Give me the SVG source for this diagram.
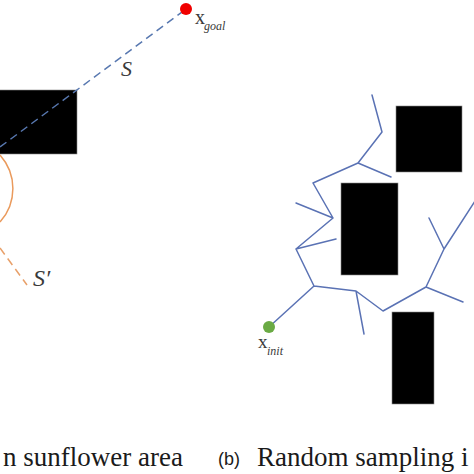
<svg xmlns="http://www.w3.org/2000/svg" width="474" height="474" viewBox="0 0 474 474">
<style>
.obs{fill:#000;stroke:#888;stroke-width:0.6}
.tree{fill:none;stroke:#5a72b4;stroke-width:1.5;stroke-linecap:round;stroke-linejoin:round}
.dashb{fill:none;stroke:#5878b0;stroke-width:1.5;stroke-dasharray:8 5}
.dasho{fill:none;stroke:#e8a06a;stroke-width:1.5;stroke-dasharray:8 5}
.arc{fill:none;stroke:#ea9a5c;stroke-width:1.5}
.lbl{font-family:"Liberation Serif","Times New Roman",serif;fill:#3a3a3a}
.cap{font-family:"Liberation Serif","Times New Roman",serif;font-size:27px;fill:#1a1a1a}
</style>
<rect width="474" height="474" fill="#fff"/>
<g id="obstacle-left"><rect class="obs" x="-2" y="90" width="79" height="64"/></g>
<g id="obstacle-r1"><rect class="obs" x="396" y="106" width="66" height="66"/></g>
<g id="obstacle-r2"><rect class="obs" x="341" y="183" width="57" height="92"/></g>
<g id="obstacle-r3"><rect class="obs" x="392" y="312" width="42" height="92"/></g>
<g id="connectors">
<path class="dashb" d="M0 147 L186 9"/>
<path class="arc" d="M0 155 A50 50 0 0 1 0 222"/>
<path class="dasho" d="M0 248 L27 285"/>
<path class="tree" d="M372 95 L382 132 L358 163 L391 177 M358 163 L313 183 L333 218 L296 203 M333 218 L296 249 L336 239 M296 249 L314 286 L356 291 L364 334 M356 291 L383 311 L426 287 L463 302 M426 287 L444 249 L429 218 M444 249 L475 201 M314 286 L269 327"/>
</g>
<g id="goal"><circle cx="186" cy="9" r="6" fill="#f00000"/>
<text class="lbl" x="195" y="24" font-size="20">x</text><text class="lbl" x="204" y="30" font-size="12" font-style="italic">goal</text></g>
<g id="init"><circle cx="269" cy="327" r="6" fill="#6aaa44"/>
<text class="lbl" x="258" y="348" font-size="19">x</text><text class="lbl" x="267" y="355" font-size="12" font-style="italic">init</text></g>
<text class="lbl" x="121" y="76" font-size="22" font-style="italic">S</text>
<text class="lbl" x="33" y="286" font-size="24" font-style="italic">S′</text>
<text class="cap" x="183" y="466" text-anchor="end">n sunflower area</text>
<text x="218" y="465" font-family="Liberation Sans,Arial,sans-serif" font-size="18" fill="#1a1a1a">(b)</text>
<text class="cap" x="257" y="466">Random sampling i</text>
</svg>
